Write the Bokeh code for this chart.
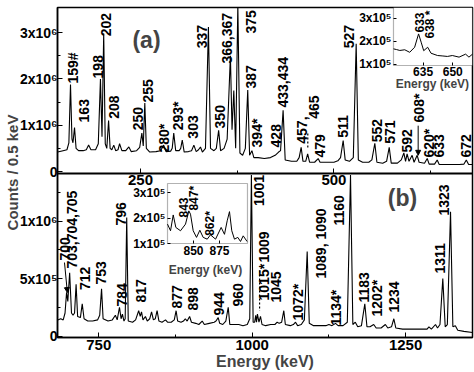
import numpy as np
from bokeh.plotting import figure
from bokeh.models import (Range1d, LinearAxis, FixedTicker, BoxAnnotation, Label,
                          Arrow, NormalHead, ColumnDataSource)
from bokeh.core.properties import value
from bokeh.embed import file_html
from bokeh.resources import INLINE

FONT = "Liberation Sans"

# ---------------- data (counts in units of 1e6 for main panels, 1e5 for insets) ----------------
a_spectrum = [(143,0.42),(150,0.45),(155,0.47),(157.5,0.62),(159.6,1.88),(161.5,0.7),(162.8,0.62),(164.8,0.95),
    (166.8,0.5),(170,0.45),(176,0.45),(180,0.47),(183,0.57),(186,0.47),(192,0.47),(195.5,0.6),(198.3,2.0),
    (200.3,0.75),(202.5,2.98),(204.5,0.6),(206.5,0.5),(208.8,1.1),(210.8,0.5),(213,0.47),(215.5,0.57),(218,0.45),
    (221,0.47),(223,0.6),(226,0.45),(231,0.45),(235,0.53),(238,0.43),(245,0.45),(249,0.52),(251.8,0.83),
    (253.6,0.55),(255.6,1.48),(257.6,0.5),(262,0.42),(270,0.43),(276,0.45),(280,0.57),(283,0.43),(289,0.44),
    (291,0.5),(293,0.83),(295.5,0.45),(300,0.45),(302,0.5),(304,0.68),(306.5,0.42),(312,0.43),(316,0.45),
    (319,0.57),(322,0.43),(325,0.47),(327.5,0.53),(330,0.42),(334,0.5),(337.8,3.12),(340.5,0.5),(345,0.45),
    (348,0.5),(351,0.89),(353.5,0.45),(358,0.5),(362,0.7),(366.2,2.5),(368.3,0.9),(370.6,1.75),(373,0.5),
    (375.8,3.6),(378.5,0.4),(382,0.35),(385.5,0.5),(388.6,1.76),(391,0.35),(394,0.45),(396.5,0.3),(402,0.3),
    (410,0.28),(418,0.3),(424,0.35),(428.5,0.42),(431,0.45),(434.3,1.32),(437,0.25),(445,0.22),(452,0.22),
    (455,0.3),(457.6,0.52),(460,0.22),(463.5,0.22),(466,0.38),(468.5,0.2),(475,0.2),(479.6,0.28),(482,0.2),
    (490,0.2),(500,0.2),(505,0.23),(508.5,0.3),(511.9,0.67),(514.5,0.25),(520,0.22),(525,0.3),(528.7,2.76),
    (531.5,0.25),(537,0.2),(545,0.2),(549,0.25),(552.8,0.61),(555.5,0.2),(563,0.18),(568,0.22),(571.4,0.52),
    (574,0.18),(582,0.18),(587,0.25),(590.3,0.4),(592.5,0.22),(594.5,0.38),(597,0.22),(601,0.35),(603.5,0.2),
    (607.5,0.35),(610,0.2),(617,0.18),(620.5,0.28),(623,0.16),(630,0.16),(633.4,0.25),(636,0.15),(645,0.15),
    (655,0.15),(662,0.15),(668,0.16),(671,0.25),(674,0.15),(679,0.15)]

b_spectrum = [(683,0.14),(688,0.15),(692,0.14),(695,0.2),(697.5,0.38),(699.5,0.3),(702.5,0.55),(705.5,0.2),
    (708,0.18),(710.5,0.2),(713,0.45),(715.5,0.17),(720,0.16),(723,0.28),(726,0.15),(732,0.13),(740,0.13),
    (748,0.14),(751.5,0.18),(754.5,0.41),(757,0.15),(765,0.13),(772,0.14),(777,0.18),(780,0.14),(783.7,0.25),
    (786.3,0.15),(788.5,0.19),(791,0.13),(793,0.15),(795.5,1.03),(798,0.13),(805,0.12),(810,0.14),(815,0.22),
    (817.5,0.17),(819.6,0.21),(822,0.14),(826,0.17),(829,0.13),(833,0.15),(836,0.21),(839,0.14),(842,0.15),
    (845,0.22),(848,0.13),(853,0.12),(858.7,0.14),(862,0.12),(868,0.12),(873,0.14),(876,0.22),(878.5,0.13),
    (884,0.12),(888,0.13),(891,0.15),(894,0.13),(898,0.17),(901,0.12),(908,0.11),(913,0.1),(918.5,0.13),
    (922,0.1),(930,0.11),(938,0.12),(941,0.13),(944.6,0.16),(947,0.11),(952,0.1),(957,0.13),(960.9,0.25),
    (963.5,0.1),(970,0.1),(978,0.1),(985,0.09),(992,0.1),(996,0.15),(998.7,1.40),(1001.5,0.12),(1004,0.12),
    (1005.7,0.18),(1007,0.12),(1008.5,0.19),(1011,0.12),(1013.5,0.17),(1016,0.1),(1022,0.09),(1030,0.1),
    (1037,0.1),(1040.7,0.12),(1044,0.11),(1048,0.12),(1051.5,0.22),(1054,0.1),(1062,0.09),(1067,0.1),
    (1070.6,0.12),(1074,0.09),(1080,0.1),(1085,0.14),(1089.6,0.735),(1093,0.11),(1100,0.09),(1110,0.09),
    (1120,0.09),(1125,0.1),(1130,0.09),(1135.8,0.11),(1140,0.09),(1148,0.09),(1155,0.12),(1160.2,1.40),
    (1164,0.1),(1168,0.12),(1172,0.08),(1178,0.09),(1183.5,0.28),(1187,0.08),(1192,0.08),(1198,0.1),
    (1202,0.07),(1210,0.07),(1217,0.1),(1221,0.07),(1227,0.08),(1230.8,0.15),(1234,0.07),(1245,0.06),
    (1260,0.06),(1275,0.06),(1285,0.06),(1288,0.08),(1292,0.06),(1298.7,0.1),(1302,0.07),(1306,0.1),
    (1310.6,0.5),(1314.5,0.08),(1318,0.1),(1323.2,1.08),(1327,0.08),(1331,0.09),(1335,0.05),(1345,0.04),
    (1359,0.03)]

ia_spectrum = [(620,1.68),(621.5,1.65),(623.2,1.61),(625.7,1.64),(628.2,1.53),(630.7,1.75),(632.7,2.33),
    (634,1.97),(635.3,1.6),(637.3,1.75),(639,1.49),(642.3,1.39),(645,1.37),(647.3,1.35),(649.8,1.39),
    (653.2,1.32),(656.5,1.45),(658.2,1.32),(660,1.45)]

ib_spectrum = [(825,1.76),(827.9,1.5),(830.5,2.12),(833,1.63),(837.5,1.5),(842.3,1.76),(845.5,2.28),
    (847.1,2.15),(849.7,1.5),(852.9,1.24),(856.1,1.52),(859.3,1.24),(863.2,1.17),(866.3,1.34),(871.2,1.17),
    (876.6,1.63),(879.8,1.36),(882.4,1.89),(884.6,2.25),(886.8,1.5),(889.4,1.17),(892.6,1.24),(895.2,1.08),
    (897.8,1.3),(901.5,1.08)]

a_labels = [("159#",162.2,1.90),("163",176.4,1.06),("198",194.5,2.01),("202",206.1,2.92),("208",215.2,1.14),
    ("250",246.2,0.89),("255",259.1,1.49),("280*",279.8,0.41),("293*",299.1,0.89),("303",318.5,0.71),
    ("337",330.1,2.66),("350",353.4,0.93),("366,367",362.4,2.33),("375",392.2,2.98),("387",393.0,1.79),
    ("394*",401.2,0.52),("428",424.5,0.52),("433,434",434.8,1.38),("457,",458.1,0.6),("465",473.6,1.14),
    ("479",482.6,0.3),("511",512.3,0.73),("527",518.8,2.66),("552",555.0,0.63),("571",573.0,0.6),
    ("592",595.0,0.41),("608*",610.5,1.06),("620*",623.4,0.3),("633",636.3,0.3),("672",670.8,0.3)]

b_labels = [("700",695.7,0.657),("703,704,705",706.6,0.587),("712",728.3,0.40),("753",754.4,0.448),
    ("784",788.1,0.257),("796",785.4,0.961),("817",818.0,0.291),("877",877.8,0.239),("898",903.2,0.222),
    ("944",945.6,0.178),("960",977.2,0.257),("1001",1010.8,1.13),("1009",1018.9,0.639),("1015*",1018.9,0.309),
    ("1045",1038.0,0.291),("1072*",1074.6,0.135),("1089, 1090",1111.3,0.5),("1134*",1135.8,0.091),
    ("1160",1141.1,0.961),("1183",1181.9,0.291),("1202*",1202.6,0.17),("1234",1230.8,0.204),
    ("1311",1305.7,0.543),("1323",1312.3,1.048)]

ia_labels = [("633",633.2,2.39),("638 *",638.7,2.13)]
ib_labels = [("843",840.7,2.02),("847*",850.3,2.29),("862*",865.7,1.3)]

# leader lines
a_arrows = [(608.8, 0.99, 0.35)]
b_arrows = [(694.1, 0.639, 698.8, 0.378)]
a_dashes = [(466.2, 0.82, 0.52)]
b_dashes = [(1012.0, 0.57, 0.22)]

a_xticks, a_xminor = [250, 500], [375, 625]
a_yticks, a_ylabels = [0, 1, 2, 3], ["0", "1x10\u2076", "2x10\u2076", "3x10\u2076"]
a_yminor = [0.5, 1.5, 2.5]
b_xticks, b_xminor = [750, 1000, 1250], [875, 1125]
b_yticks, b_ylabels = [0, 0.5, 1], ["0", "5x10\u2075", "1x10\u2076"]
b_yminor = [0.25, 0.75, 1.25]
ia_xticks, ib_xticks = [635, 650], [850, 875]
i_yticks, i_ylabels = [1, 2, 3], ["1x10\u2075", "2x10\u2075", "3x10\u2075"]

# ---------------- ranges (layout) ----------------
A_X = (142.8, 679.0)
A_Y = (-3.585, 3.542)
B_X = (682.7, 1359.0)
B_Y = (-0.013, 2.857)
A_BOTTOM = -0.04
IA_X = (449.9, 660.0); IA_Y = (-10.87, 3.478); IA_BOX = (620, 660, 0.957, 3.478)
IB_X = (719.2, 1118.3); IB_Y = (-2.686, 10.255); IB_BOX = (825, 901.9, 1.0, 3.353)

p = figure(width=474, height=372, output_backend="svg", toolbar_location=None,
           x_range=Range1d(*B_X), y_range=Range1d(*B_Y),
           min_border_top=7, min_border_right=2, min_border_left=0, min_border_bottom=0)
p.extra_x_ranges = {"ax": Range1d(*A_X), "iax": Range1d(*IA_X), "ibx": Range1d(*IB_X)}
p.extra_y_ranges = {"ay": Range1d(*A_Y), "iay": Range1d(*IA_Y), "iby": Range1d(*IB_Y)}
p.grid.visible = False
p.outline_line_color = "black"
p.outline_line_width = 1.5
p.background_fill_color = "white"
p.border_fill_color = "white"


def style_axis(ax, size="15px", tick_in=5, minor_in=3):
    ax.major_label_text_font = FONT
    ax.major_label_text_font_style = "bold"
    ax.major_label_text_font_size = size
    ax.major_label_text_color = "black"
    ax.axis_line_color = "black"
    ax.axis_line_width = 1.5
    ax.major_tick_in = tick_in
    ax.major_tick_out = 0
    ax.minor_tick_in = minor_in
    ax.minor_tick_out = 0
    ax.major_tick_line_color = "black"
    ax.minor_tick_line_color = "black"
    ax.major_label_standoff = 2


# main bottom axis (panel b)
xb = p.xaxis[0]
xb.ticker = FixedTicker(ticks=b_xticks, minor_ticks=b_xminor)
style_axis(xb)
xb.axis_label = "Energy (keV)"
xb.axis_label_text_font = FONT
xb.axis_label_text_font_style = "bold"
xb.axis_label_text_font_size = "16px"
xb.axis_label_standoff = 0

# one left axis carrying the ticks of both panels: panel (a) values are placed
# through the same linear mapping Bokeh uses for the two y ranges
def a_to_b(v):
    return B_Y[0] + (v - A_Y[0]) * (B_Y[1] - B_Y[0]) / (A_Y[1] - A_Y[0])

left_major = list(b_yticks) + [a_to_b(v) for v in a_yticks]
left_minor = list(b_yminor) + [a_to_b(v) for v in a_yminor]
left_text = list(b_ylabels) + list(a_ylabels)
yb = p.yaxis[0]
yb.ticker = FixedTicker(ticks=left_major, minor_ticks=left_minor)
yb.major_label_overrides = {t: s for t, s in zip(left_major, left_text)}
style_axis(yb, "14px")
yb.major_label_standoff = 0
yb.axis_label = "Counts / 0.5 keV"
yb.axis_label_text_font = FONT
yb.axis_label_text_font_style = "bold"
yb.axis_label_text_font_size = "15px"
yb.axis_label_standoff = -4

# panel (a) bottom axis drawn at the panel boundary
xa = LinearAxis(x_range_name="ax", y_range_name="ay", fixed_location=A_BOTTOM,
                ticker=FixedTicker(ticks=a_xticks, minor_ticks=a_xminor))
style_axis(xa)
xa.axis_line_width = 2
p.add_layout(xa, "below")

# spectra
ae, ac = zip(*a_spectrum)
be, bc = zip(*b_spectrum)
p.line(list(ae), list(ac), color="black", line_width=1.1, x_range_name="ax", y_range_name="ay")
p.line(list(be), list(bc), color="black", line_width=1.1)


def add_labels(labels, size, xr="default", yr="default", level="glyph"):
    t, x, y = zip(*labels)
    src = ColumnDataSource(dict(x=list(x), y=list(y), t=list(t)))
    r = p.text(x="x", y="y", text="t", source=src, angle=np.pi / 2, text_align="left",
               text_baseline="middle", text_font=value(FONT), text_font_style="bold",
               text_font_size=size, text_color="black", x_range_name=xr, y_range_name=yr)
    r.level = level


add_labels(a_labels, "14px", "ax", "ay")
add_labels(b_labels, "14px")

# leaders
for (x, y0, y1) in a_arrows:
    p.add_layout(Arrow(end=NormalHead(size=5, fill_color="black", line_color="black"),
                       x_start=x, y_start=y0, x_end=x, y_end=y1, line_width=1,
                       x_range_name="ax", y_range_name="ay"))
for (x0, y0, x1, y1) in b_arrows:
    p.add_layout(Arrow(end=NormalHead(size=5, fill_color="black", line_color="black"),
                       x_start=x0, y_start=y0, x_end=x1, y_end=y1, line_width=1))
for (x, y0, y1) in a_dashes:
    p.segment(x0=[x], y0=[y0], x1=[x], y1=[y1], line_dash="2 2", color="black", line_width=1.2,
              x_range_name="ax", y_range_name="ay")
for (x, y0, y1) in b_dashes:
    p.segment(x0=[x], y0=[y0], x1=[x], y1=[y1], line_dash="2 2", color="black", line_width=1.2)

# panel tags
p.add_layout(Label(x=257.8, y=2.85, text="(a)", x_range_name="ax", y_range_name="ay",
                   text_align="center", text_baseline="middle", text_font=FONT,
                   text_font_style="bold", text_font_size="23px"))
p.add_layout(Label(x=1245, y=1.204, text="(b)", text_align="center", text_baseline="middle",
                   text_font=FONT, text_font_style="bold", text_font_size="23px"))


# insets
def add_inset(xr, yr, box, spectrum, labels, xticks, lab_xy):
    l, r_, b, t = box
    p.add_layout(BoxAnnotation(left=l, right=r_, bottom=b, top=t, x_range_name=xr, y_range_name=yr,
                               fill_color="white", fill_alpha=1.0, line_color="black", line_width=1.2))
    e, c = zip(*spectrum)
    ln = p.line(list(e), list(c), color="black", line_width=1, x_range_name=xr, y_range_name=yr)
    ln.level = "overlay"
    add_labels(labels, "12px", xr, yr, level="overlay")
    yl = LinearAxis(x_range_name=xr, y_range_name=yr, fixed_location=l, bounds=(b, t),
                    ticker=FixedTicker(ticks=i_yticks),
                    major_label_overrides={tt: s for tt, s in zip(i_yticks, i_ylabels)})
    style_axis(yl, "12px", 3, 0)
    yl.axis_line_color = None
    yl.level = "overlay"
    p.add_layout(yl, "left")
    xl = LinearAxis(x_range_name=xr, y_range_name=yr, fixed_location=b, bounds=(l, r_),
                    ticker=FixedTicker(ticks=xticks))
    style_axis(xl, "12px", 3, 0)
    xl.axis_line_color = None
    xl.level = "overlay"
    p.add_layout(xl, "below")
    p.add_layout(Label(x=lab_xy[0], y=lab_xy[1], text="Energy (keV)", x_range_name=xr, y_range_name=yr,
                       text_align="center", text_baseline="top", text_font=FONT,
                       text_font_style="bold", text_font_size="12px", level="overlay"))


add_inset("iax", "iay", IA_BOX, ia_spectrum, ia_labels, ia_xticks, (639.7, 0.435))
add_inset("ibx", "iby", IB_BOX, ib_spectrum, ib_labels, ib_xticks, (861.5, 0.216))

open("out.html", "w").write(file_html(p, INLINE))
